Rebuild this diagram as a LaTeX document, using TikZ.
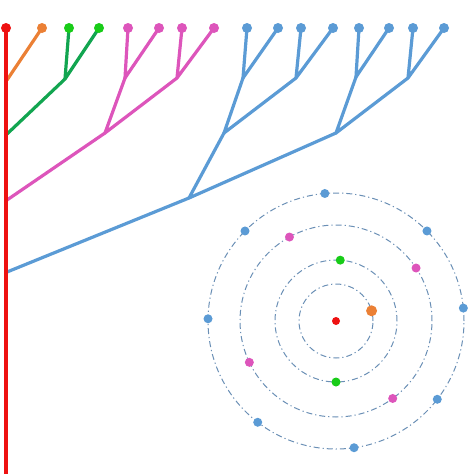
\documentclass[tikz,border=0pt]{standalone}
\usetikzlibrary{calc}
\definecolor{cred}{HTML}{EE1111}
\definecolor{corange}{HTML}{EB8035}
\definecolor{cgreen}{HTML}{12A550}
\definecolor{cgreendot}{HTML}{18CC18}
\definecolor{cpink}{HTML}{DD55BB}
\definecolor{cblue}{HTML}{5B9BD5}
\definecolor{corbit}{HTML}{6A8FB5}
\tikzset{
  leafdot/.style={circle,inner sep=0pt,minimum size=10pt,fill=#1},
  orbdot/.style={circle,inner sep=0pt,minimum size=9pt,fill=#1},
  branch/.style={line width=3.2pt,draw=#1,line cap=round,line join=round},
  orbit/.style={draw=corbit,line width=1pt,dash pattern=on 6pt off 3pt on 1.2pt off 3pt}
}
\begin{document}
\begin{tikzpicture}[x=1pt,y=-1pt]
\useasboundingbox (0,0) rectangle (474,474);
% junction coordinates
\coordinate (rb) at (6,474);
\coordinate (jo) at (7,80);
\coordinate (jg) at (7,134);
\coordinate (jp) at (7,200);
\coordinate (jb) at (7,272);
\coordinate (g1) at (65,79);
\coordinate (p1) at (125,78);
\coordinate (p2) at (177,78);
\coordinate (pm) at (105,133);
\coordinate (b1) at (243,78);
\coordinate (b2) at (296,78);
\coordinate (b3) at (356,77);
\coordinate (b4) at (408,78);
\coordinate (bm1) at (224,133);
\coordinate (bm2) at (336,133);
\coordinate (bm) at (189,198);
% branches
\draw[branch=cblue] (247,28) coordinate (lb1) -- (b1) -- (278,28) coordinate (lb2);
\draw[branch=cblue] (301,28) coordinate (lb3) -- (b2) -- (333,28) coordinate (lb4);
\draw[branch=cblue] (359,28) coordinate (lb5) -- (b3) -- (389,28) coordinate (lb6);
\draw[branch=cblue] (413,28) coordinate (lb7) -- (b4) -- (444,28) coordinate (lb8);
\draw[branch=cblue] (b1) -- (bm1) -- (b2);
\draw[branch=cblue] (b3) -- (bm2) -- (b4);
\draw[branch=cblue] (bm1) -- (bm) -- (bm2);
\draw[branch=cblue] (bm) -- (jb);
\draw[branch=cpink] (128,28) coordinate (lp1) -- (p1) -- (159,28) coordinate (lp2);
\draw[branch=cpink] (182,28) coordinate (lp3) -- (p2) -- (214,28) coordinate (lp4);
\draw[branch=cpink] (p1) -- (pm) -- (p2);
\draw[branch=cpink] (pm) -- (jp);
\draw[branch=cgreen] (69,28) coordinate (lg1) -- (g1) -- (99,28) coordinate (lg2);
\draw[branch=cgreen] (g1) -- (jg);
\draw[branch=corange] (42,28) coordinate (lo) -- (jo);
\draw[draw=cred,line width=4pt] (6,28) coordinate (lr) -- (rb);
% leaf dots
\foreach \n/\c in {lr/cred,lo/corange,lg1/cgreendot,lg2/cgreendot,lp1/cpink,lp2/cpink,lp3/cpink,lp4/cpink,lb1/cblue,lb2/cblue,lb3/cblue,lb4/cblue,lb5/cblue,lb6/cblue,lb7/cblue,lb8/cblue}
  \node[leafdot=\c] (d\n) at (\n) {};
% orbits
\coordinate (oc) at (336,321);
\draw[orbit] (oc) circle [radius=37pt];
\draw[orbit] (oc) circle [radius=61pt];
\draw[orbit] (oc) circle [radius=96pt];
\draw[orbit] (oc) circle [radius=128pt];
\node[orbdot=cred,minimum size=8pt] (sun) at (oc) {};
\node[orbdot=corange,minimum size=11pt] (oo) at ($(oc)+(-16:37)$) {};
\node[orbdot=cgreendot] (og1) at ($(oc)+(-86:61)$) {};
\node[orbdot=cgreendot] (og2) at ($(oc)+(90:61)$) {};
\foreach \a [count=\i] in {119,33.5,-154.5,-53.8}
  \node[orbdot=cpink] (op\i) at ($(oc)+(-\a:96)$) {};
\foreach \a [count=\i] in {95,44.7,5.8,-37.7,-81.9,-127.7,179,135.3}
  \node[orbdot=cblue] (ob\i) at ($(oc)+(-\a:128)$) {};
\end{tikzpicture}
\end{document}
